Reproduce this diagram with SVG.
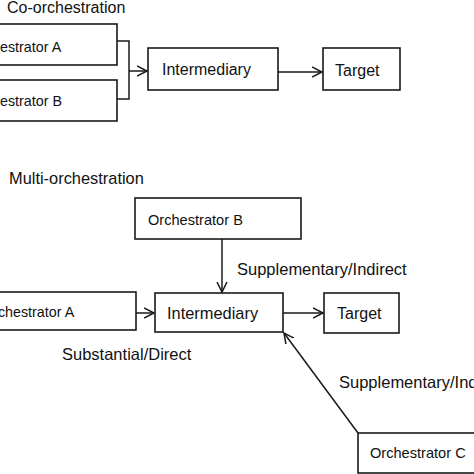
<svg xmlns="http://www.w3.org/2000/svg" width="474" height="474" viewBox="0 0 474 474">
<style>
.box{fill:#fff;stroke:#1a1a1a;stroke-width:1.6}
.ln{fill:none;stroke:#1a1a1a;stroke-width:1.5}
text{font-family:"Liberation Sans",Arial,sans-serif;fill:#111}
.t16{font-size:16px}
.t14{font-size:14.3px}
.lab{font-size:16.5px}
</style>
<defs>
<marker id="ah" markerUnits="userSpaceOnUse" markerWidth="12" markerHeight="12" refX="10" refY="5" orient="auto" viewBox="0 0 12 10">
<path d="M0,0 L10,5 L0,10" fill="none" stroke="#1a1a1a" stroke-width="1.5"/>
</marker>
</defs>
<rect width="474" height="474" fill="#fff"/>
<text class="t16" x="7" y="13">Co-orchestration</text>
<text class="t16" x="9" y="184" style="font-size:16.4px">Multi-orchestration</text>

<g id="co-orchA"><rect class="box" x="-5" y="24" width="122" height="41"/><text class="t14" x="-31" y="52">Orchestrator A</text></g>
<g id="co-orchB"><rect class="box" x="-5" y="80" width="122" height="41"/><text class="t14" x="-31" y="106">Orchestrator B</text></g>
<g id="co-inter"><rect class="box" x="148" y="48" width="130" height="42"/><text class="t16" x="162" y="75">Intermediary</text></g>
<g id="co-target"><rect class="box" x="323" y="48" width="77" height="42"/><text class="t16" x="335" y="76">Target</text></g>

<g id="m-orchB"><rect class="box" x="135" y="198" width="166" height="41"/><text class="t14" x="148" y="225" style="font-size:14.6px">Orchestrator B</text></g>
<g id="m-orchA"><rect class="box" x="-5" y="292" width="141" height="38"/><text class="t14" x="-18" y="317">Orchestrator A</text></g>
<g id="m-inter"><rect class="box" x="155" y="293" width="128" height="39"/><text class="t16" x="167" y="319" style="font-size:16.4px">Intermediary</text></g>
<g id="m-target"><rect class="box" x="324" y="293" width="75" height="40"/><text class="t16" x="337" y="319">Target</text></g>
<g id="m-orchC"><rect class="box" x="358" y="433" width="130" height="40"/><text class="t14" x="370" y="458" style="font-size:14.6px">Orchestrator C</text></g>

<g id="connectors">
<path class="ln" d="M117,41 H129 V99 H117"/>
<path class="ln" d="M129,71 H147" marker-end="url(#ah)"/>
<path class="ln" d="M278,72 H322" marker-end="url(#ah)"/>
<path class="ln" d="M222,239 V292" marker-end="url(#ah)"/>
<path class="ln" d="M136,313 H154" marker-end="url(#ah)"/>
<path class="ln" d="M283,313 H323" marker-end="url(#ah)"/>
<path class="ln" d="M358,433 L284,333" marker-end="url(#ah)"/>
</g>

<text class="lab" x="237" y="275">Supplementary/Indirect</text>
<text class="lab" x="62" y="360">Substantial/Direct</text>
<text class="lab" x="339" y="388">Supplementary/Indirect</text>
</svg>
